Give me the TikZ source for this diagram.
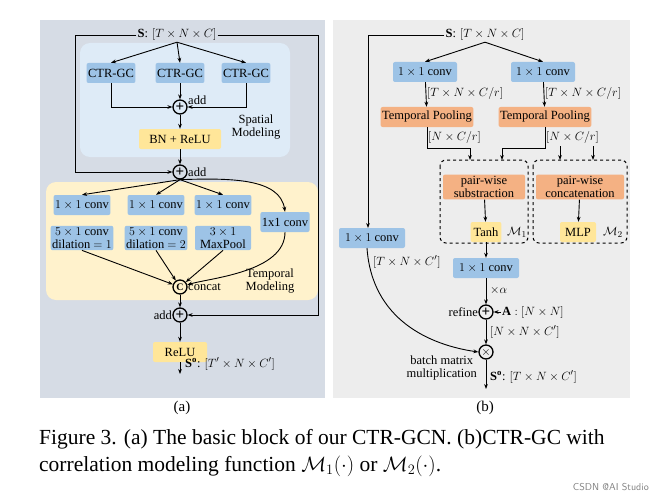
\documentclass[tikz,border=0pt]{standalone}
\usepackage{amsmath,amssymb}
\usepackage{fontspec}
\setmainfont{Liberation Serif}
\usetikzlibrary{arrows.meta}
\definecolor{panA}{HTML}{D6DCE5}
\definecolor{panB}{HTML}{EDEDED}
\definecolor{spat}{HTML}{DEEBF7}
\definecolor{temp}{HTML}{FFF2CC}
\definecolor{bbox}{HTML}{9DC3E6}
\definecolor{ybox}{HTML}{FFE699}
\definecolor{obox}{HTML}{F4B183}
\begin{document}
\begin{tikzpicture}[x=1pt,y=-1pt,
  every node/.style={font=\fontsize{12.5}{13.5}\selectfont, inner sep=1pt},
  blue/.style={fill=bbox, rounded corners=2pt, minimum height=20, inner sep=1.5pt},
  yel/.style={fill=ybox, rounded corners=2pt, minimum height=20, inner sep=3pt},
  ora/.style={fill=obox, rounded corners=2pt, minimum height=20, inner sep=1.5pt},
  op/.style={circle, draw, line width=1.3pt, minimum size=14, inner sep=0pt, font=\bfseries\fontsize{15}{15}\selectfont},
  ar/.style={-{Stealth[length=5pt]}, line width=0.9pt},
  dbox/.style={draw, dashed, line width=1pt, rounded corners=6pt}]
\useasboundingbox (0,0) rectangle (663,500);
\fill[white] (0,0) rectangle (663,500);
% panels
\fill[panA] (40,20) rectangle (325,398);
\fill[panB] (333,20) rectangle (630,398);
\fill[spat, rounded corners=10pt] (80,43) rectangle (290,157);
\fill[temp, rounded corners=10pt] (46,182) rectangle (318,300);
% ---------- left ----------
\node (S) at (177,35) {$\mathbf{S}$: $[T\times N\times C]$};
\node[blue] (g1) at (111,73) {CTR-GC};
\node[blue] (g2) at (180,73) {CTR-GC};
\node[blue] (g3) at (246,73) {CTR-GC};
\node[op] (a1) at (180,107) {+};
\node[anchor=south west] at (187,106) {add};
\node[yel, minimum width=82] (bn) at (180,139) {BN + ReLU};
\node[align=center] at (256,127) {Spatial\\Modeling};
\node[op] (a2) at (180,172) {+};
\node[anchor=west] at (187,172) {add};
\node[blue] (c1) at (82,205) {$1\times1$ conv};
\node[blue] (c2) at (156,205) {$1\times1$ conv};
\node[blue] (c3) at (223,205) {$1\times1$ conv};
\node[blue] (c4) at (285,222) {1x1 conv};
\node[blue, align=center] (d1) at (82,238) {$5\times1$ conv\\dilation $=1$};
\node[blue, align=center] (d2) at (156,238) {$5\times1$ conv\\dilation $=2$};
\node[blue, align=center, minimum width=56] (d3) at (223,238) {$3\times1$\\MaxPool};
\node[op, font=\bfseries\fontsize{10}{10}\selectfont] (cc) at (180,287) {C};
\node[anchor=west] at (187,287) {concat};
\node[align=center] at (270,281) {Temporal\\Modeling};
\node[op] (a3) at (180,315) {+};
\node[anchor=east] at (173,315) {add};
\node[yel, minimum width=54] (relu) at (180,352) {ReLU};
\coordinate (out) at (180,374);
\node[anchor=west] at (184,364) {$\mathbf{S}^{\mathbf{o}}$: $[T'\times N\times C']$};
\draw[ar] (S.south) -- (g1.north);
\draw[ar] (S.south) -- (g2.north);
\draw[ar] (S.south) -- (g3.north);
\draw[ar] (g1.south) |- (a1.west);
\draw[ar] (g3.south) |- (a1.east);
\draw[ar] (g2) -- (a1);
\draw[ar] (a1) -- (bn);
\draw[ar] (bn) -- (a2);
\draw[ar] (S.west) -- (75,35) -- (75,172) -- (a2.west);
\draw[ar] (S.east) -- (318,35) -- (318,315) -- (a3.east);
\draw[ar] (a2.south) -- (c1.north);
\draw[ar] (a2.south) -- (c2.north);
\draw[ar] (a2.south) -- (c3.north);
\draw[ar] (a2.south) .. controls (230,178) and (280,178) .. (c4.north);
\draw[ar] (d1.south) -- (cc);
\draw[ar] (d2.south) -- (cc);
\draw[ar] (d3.south) -- (cc);
\draw[ar] (c4.south) .. controls (285,272) and (210,278) .. (cc);
\draw[ar] (cc) -- (a3);
\draw[ar] (a3) -- (relu);
\draw[ar] (relu) -- (out);
% ---------- right ----------
\node (T) at (485,35) {$\mathbf{S}$: $[T\times N\times C]$};
\node[blue, minimum width=64] (r1) at (425,72) {$1\times1$ conv};
\node[blue, minimum width=64] (r2) at (543,72) {$1\times1$ conv};
\node[anchor=west] at (426,94) {$[T\times N\times C/r]$};
\node[anchor=west] at (544,94) {$[T\times N\times C/r]$};
\node[ora] (p1) at (427,117) {Temporal Pooling};
\node[ora] (p2) at (545,117) {Temporal Pooling};
\node[anchor=west] at (427,137) {$[N\times C/r]$};
\node[anchor=west] at (545,137) {$[N\times C/r]$};
\draw[dbox] (440,160) rectangle (528,243);
\draw[dbox] (533,160) rectangle (627,243);
\node[ora, align=center, minimum width=82] (ps) at (484,187) {pair-wise\\substraction};
\node[ora, align=center, minimum width=88] (pc) at (580,187) {pair-wise\\concatenation};
\node[yel] (tanh) at (486,232) {Tanh};
\node[yel, minimum width=36] (mlp) at (578,232) {MLP};
\node at (517,232) {$\mathcal{M}_1$};
\node at (613,232) {$\mathcal{M}_2$};
\coordinate (m1) at (560,146);
\coordinate (m2) at (593,146);
\draw[ar] (m1) -- (560,160);
\draw[ar] (m2) -- (593,160);
\node[blue, minimum width=66] (rc) at (486,268) {$1\times1$ conv};
\node[blue, minimum width=66] (lc) at (372,238) {$1\times1$ conv};
\node[anchor=west] at (372,262) {$[T\times N\times C']$};
\node[anchor=west] at (489,290) {$\times\alpha$};
\node[op] (rf) at (486,312) {+};
\node[anchor=east] at (479,312) {refine};
\node[anchor=west] (A) at (501,312) {$\mathbf{A}:[N\times N]$};
\node[anchor=west] at (489,332) {$[N\times N\times C']$};
\node[op, font=\bfseries\fontsize{13}{13}\selectfont] (mul) at (486,352) {$\times$};
\node[align=center, anchor=east] at (478,368) {batch matrix\\multiplication};
\node[anchor=west] at (489,377) {$\mathbf{S}^{\mathbf{o}}$: $[T\times N\times C']$};
\coordinate (out2) at (486,389);
\draw[ar] (T.south) -- (r1.north);
\draw[ar] (T.south) -- (r2.north);
\draw[ar] (r1) -- (p1);
\draw[ar] (r2) -- (p2);
\draw[ar] (p1.south) -- (427,148) -- (470,148) -- (470,160);
\draw[ar] (p2.south) -- (545,148) -- (502,148) -- (502,160);
\draw[ar] (ps) -- (tanh);
\draw[ar] (pc) -- (mlp);
\draw[ar] (tanh) -- (rc);
\draw[ar] (rc) -- (rf);
\draw[ar] (A) -- (rf);
\draw[ar] (T.west) -- (368,35) -- (368,228);
\draw[ar] (rf) -- (mul);
\draw[ar] (367,248) .. controls (372,320) and (430,345) .. (mul.west);
\draw[ar] (mul) -- (out2);
% captions
\node at (182,408) {\fontsize{15}{16}\selectfont (a)};
\node at (485,408) {\fontsize{15}{16}\selectfont (b)};
\node[anchor=west, align=left, font=\fontsize{21.5}{27}\selectfont] at (38,453)
 {Figure 3. (a) The basic block of our CTR-GCN. (b)CTR-GC with\\correlation modeling function $\mathcal{M}_1(\cdot)$ or $\mathcal{M}_2(\cdot)$.};
\node[anchor=east, text=gray, font=\fontsize{10}{11}\sffamily] at (650,487) {CSDN @AI Studio};
\end{tikzpicture}
\end{document}
